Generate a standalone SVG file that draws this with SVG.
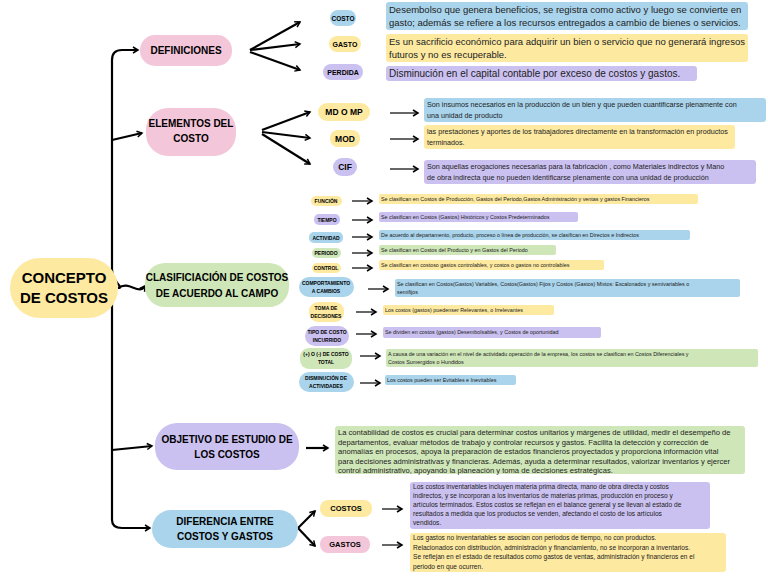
<svg xmlns="http://www.w3.org/2000/svg" width="768" height="576" viewBox="0 0 768 576">
<defs>
<marker id="ah" markerWidth="8" markerHeight="8" refX="6" refY="4" orient="auto" markerUnits="userSpaceOnUse"><path d="M1,1 L6,4 L1,7" fill="none" stroke="#000" stroke-width="1.5"/></marker>
<style>
.c{stroke:#000;stroke-width:2.2;fill:none;marker-end:url(#ah)}
.s{stroke:#000;stroke-width:1.2;fill:none;marker-end:url(#ah)}
.lb{font-family:"Liberation Sans",Arial,sans-serif;font-weight:bold;fill:#000;text-anchor:middle}
.t{font-family:"Liberation Sans",Arial,sans-serif;fill:#222}
.pk{fill:#f4c6d9}.yl{fill:#fde9a0}.pu{fill:#cbc1f1}.bl{fill:#a9d4ec}.gr{fill:#cfe6b8}
</style>
</defs>
<rect width="768" height="576" fill="#fff"/>
<g id="connectors">
<path d="M118,288 C125,288 112,282 112,270 L112,60 Q112,50 122,50 L138,50" class="c"/>
<path d="M112,140 L142,133" class="c"/>
<path d="M118,288 C130,280 138,296 145,286" class="c"/>
<path d="M112,270 L112,520 Q112,528 122,528 L150,528" class="c"/>
<path d="M112,450 L152,446" class="c"/>
<path d="M250,50 L300,22" class="c"/><path d="M250,50 L300,44" class="c"/><path d="M250,52 L300,70" class="c"/>
<path d="M262,130 L310,112" class="c"/><path d="M262,132 L310,138" class="c"/><path d="M262,134 L310,164" class="c"/>
<path d="M390,113 L418,113" class="s"/><path d="M390,139 L418,139" class="s"/><path d="M390,169 L418,169" class="s"/>
<path d="M352,201 L372,201" class="s"/><path d="M352,220 L372,220" class="s"/><path d="M352,237 L372,237" class="s"/>
<path d="M352,253 L372,253" class="s"/><path d="M352,268 L372,268" class="s"/><path d="M368,289 L388,289" class="s"/>
<path d="M356,312 L376,312" class="s"/><path d="M356,334 L376,334" class="s"/><path d="M360,356 L380,356" class="s"/>
<path d="M360,383 L380,383" class="s"/>
<path d="M306,448 L328,448" class="c"/>
<path d="M298,528 L315,511" class="c"/><path d="M298,528 L315,546" class="c"/>
<path d="M382,509 L402,509" class="s"/><path d="M382,545 L402,545" class="s"/>
</g>
<g id="concepto"><rect x="10" y="258" width="108" height="60" rx="30" class="yl"/><text class="lb" font-weight="normal" font-size="15" x="64" y="283">CONCEPTO</text><text class="lb" font-weight="normal" font-size="15" x="64" y="303">DE COSTOS</text></g>
<g id="definiciones"><rect x="140" y="35" width="92" height="31" rx="15" class="pk"/><text class="lb" font-size="10" x="186" y="54">DEFINICIONES</text></g>
<g id="elementos"><rect x="146" y="108" width="90" height="48" rx="22" class="pk"/><text class="lb" font-size="10" x="191" y="127">ELEMENTOS DEL</text><text class="lb" font-size="10" x="191" y="142">COSTO</text></g>
<g id="clasificacion"><rect x="145" y="263" width="144" height="44" rx="20" class="gr"/><text class="lb" font-size="10" x="217" y="281">CLASIFICIACIÓN DE COSTOS</text><text class="lb" font-size="10" x="217" y="297">DE ACUERDO AL CAMPO</text></g>
<g id="objetivo"><rect x="155" y="423" width="144" height="47" rx="22" class="pu"/><text class="lb" font-size="10" x="227" y="443">OBJETIVO DE ESTUDIO DE</text><text class="lb" font-size="10" x="227" y="458">LOS COSTOS</text></g>
<g id="diferencia"><rect x="152" y="510" width="146" height="38" rx="19" class="bl"/><text class="lb" font-size="10" x="225" y="525">DIFERENCIA ENTRE</text><text class="lb" font-size="10" x="225" y="540">COSTOS Y GASTOS</text></g>
<g id="costo"><rect x="330" y="10" width="26" height="16" rx="8" class="bl"/><text class="lb" font-size="6.5" x="343" y="21">COSTO</text>
<rect x="386" y="2" width="362" height="28" rx="3" class="bl"/><text class="t" font-size="9.5" x="389" y="13">Desembolso que genera beneficios, se registra como activo y luego se convierte en</text><text class="t" font-size="9.5" x="389" y="26">gasto; además se refiere a los recursos entregados a cambio de bienes o servicios.</text></g>
<g id="gasto"><rect x="329" y="36" width="32" height="16" rx="8" class="yl"/><text class="lb" font-size="7" x="345" y="47">GASTO</text>
<rect x="386" y="34" width="362" height="28" rx="3" class="yl"/><text class="t" font-size="9.5" x="389" y="45">Es un sacrificio económico para adquirir un bien o servicio que no generará ingresos</text><text class="t" font-size="9.5" x="389" y="58">futuros y no es recuperable.</text></g>
<g id="perdida"><rect x="323" y="64" width="40" height="16" rx="8" class="pu"/><text class="lb" font-size="7" x="343" y="75">PERDIDA</text>
<rect x="386" y="66" width="311" height="15" rx="3" class="pu"/><text class="t" font-size="10" x="389" y="77">Disminución en el capital contable por exceso de costos y gastos.</text></g>
<g id="mdomp"><rect x="318" y="103" width="52" height="18" rx="9" class="yl"/><text class="lb" font-size="8.5" x="344" y="115">MD O MP</text>
<rect x="424" y="98" width="342" height="24" rx="3" class="bl"/><text class="t" font-size="7.2" x="427" y="107">Son insumos necesarios en la producción de un bien y que pueden cuantificarse plenamente con</text><text class="t" font-size="7.2" x="427" y="118">una unidad de producto</text></g>
<g id="mod"><rect x="330" y="130" width="30" height="17" rx="8" class="yl"/><text class="lb" font-size="8.5" x="345" y="142">MOD</text>
<rect x="424" y="125" width="311" height="24" rx="3" class="yl"/><text class="t" font-size="7.2" x="427" y="134">las prestaciones y  aportes de los trabajadores  directamente en la transformación en productos</text><text class="t" font-size="7.2" x="427" y="145">terminados.</text></g>
<g id="cif"><rect x="333" y="158" width="24" height="18" rx="9" class="pu"/><text class="lb" font-size="8.5" x="345" y="170">CIF</text>
<rect x="424" y="160" width="332" height="24" rx="3" class="pu"/><text class="t" font-size="7.2" x="427" y="169">Son aquellas erogaciones necesarias para la fabricación , como Materiales indirectos y Mano</text><text class="t" font-size="7.2" x="427" y="180">de obra indirecta que no pueden identificarse plenamente con una unidad de producción</text></g>
<g id="funcion"><rect x="311" y="196" width="31" height="10" rx="5" class="yl"/><text class="lb" font-size="5" x="326" y="203">FUNCIÓN</text>
<rect x="379" y="194" width="319" height="10" rx="2" class="yl"/><text class="t" font-size="5.4" x="381" y="201">Se clasifican en Costos de Producción, Gastos del Periodo,Gastos Administración y ventas y gastos Financieros</text></g>
<g id="tiempo"><rect x="314" y="214" width="26" height="11" rx="5" class="pu"/><text class="lb" font-size="5" x="327" y="222">TIEMPO</text>
<rect x="379" y="212" width="199" height="10" rx="2" class="pu"/><text class="t" font-size="5.4" x="381" y="219">Se clasifican en Costos (Gastos) Históricos y Costos Predeterminados</text></g>
<g id="actividad"><rect x="309" y="232" width="34" height="11" rx="5" class="bl"/><text class="lb" font-size="5" x="326" y="240">ACTIVIDAD</text>
<rect x="379" y="230" width="311" height="10" rx="2" class="bl"/><text class="t" font-size="5.4" x="381" y="237">De acuerdo al departamento, producto, proceso o línea de producción, se clasifican en Directos e Indirectos</text></g>
<g id="periodo"><rect x="312" y="248" width="29" height="10" rx="5" class="gr"/><text class="lb" font-size="5" x="326" y="255">PERIODO</text>
<rect x="379" y="245" width="177" height="10" rx="2" class="gr"/><text class="t" font-size="5.4" x="381" y="252">Se clasifican en Costos del Producto y en Gastos del Periodo</text></g>
<g id="control"><rect x="312" y="263" width="29" height="10" rx="5" class="yl"/><text class="lb" font-size="5" x="326" y="270">CONTROL</text>
<rect x="379" y="260" width="225" height="10" rx="2" class="yl"/><text class="t" font-size="5.4" x="381" y="267">Se clasifican en costoso gastos controlables, y costos o gastos no controlables</text></g>
<g id="comportamiento"><rect x="299" y="277" width="55" height="20" rx="10" class="bl"/><text class="lb" font-size="5" x="326" y="285">COMPORTAMIENTO</text><text class="lb" font-size="5" x="326" y="293">A CAMBIOS</text>
<rect x="395" y="279" width="345" height="18" rx="2" class="bl"/><text class="t" font-size="5.4" x="397" y="286">Se clasifican en Costos(Gastos) Variables, Costos(Gastos) Fijos y Costos (Gastos) Mixtos: Escalonados y semivariables o</text><text class="t" font-size="5.4" x="397" y="294">semifijos</text></g>
<g id="toma"><rect x="309" y="302" width="35" height="20" rx="9" class="yl"/><text class="lb" font-size="5" x="326" y="310">TOMA DE</text><text class="lb" font-size="5" x="326" y="318">DECISIONES</text>
<rect x="383" y="305" width="171" height="10" rx="2" class="yl"/><text class="t" font-size="5.4" x="385" y="312">Los costos (gastos) puedenser Relevantes, o Irrelevantes</text></g>
<g id="tipo"><rect x="305" y="326" width="44" height="20" rx="10" class="pu"/><text class="lb" font-size="5" x="327" y="334">TIPO DE COSTO</text><text class="lb" font-size="5" x="327" y="342">INCURRIDO</text>
<rect x="383" y="327" width="218" height="11" rx="2" class="pu"/><text class="t" font-size="5.4" x="385" y="334">Se dividen en costos (gastos) Desembolsables, y Costos de oportunidad</text></g>
<g id="total"><rect x="300" y="348" width="52" height="21" rx="9" class="gr"/><text class="lb" font-size="5" x="326" y="356">(+) O (-) DE COSTO</text><text class="lb" font-size="5" x="326" y="364">TOTAL</text>
<rect x="386" y="349" width="372" height="18" rx="2" class="gr"/><text class="t" font-size="5.4" x="388" y="356">A causa de una variación en el nivel de actividadu operación de la empresa, los costos se clasifican en Costos Diferenciales y</text><text class="t" font-size="5.4" x="388" y="364">Costos Sumergidos o Hundidos</text></g>
<g id="disminucion"><rect x="299" y="372" width="55" height="20" rx="10" class="bl"/><text class="lb" font-size="5" x="326" y="380">DISMINUCIÓN DE</text><text class="lb" font-size="5" x="326" y="388">ACTIVIDADES</text>
<rect x="385" y="375" width="131" height="10" rx="2" class="bl"/><text class="t" font-size="5.4" x="387" y="382">Los costos pueden ser Evitables e Inevitables</text></g>
<g id="objetivo-texto"><rect x="335" y="426" width="410" height="48" rx="3" class="gr"/>
<text class="t" font-size="7.6" x="338" y="435">La contabilidad de costos es crucial para determinar costos unitarios y márgenes de utilidad, medir el desempeño de</text>
<text class="t" font-size="7.6" x="338" y="444.5">departamentos, evaluar métodos de trabajo y controlar recursos y gastos. Facilita la detección y corrección de</text>
<text class="t" font-size="7.6" x="338" y="454">anomalías en procesos, apoya la preparación de estados financieros proyectados y proporciona información vital</text>
<text class="t" font-size="7.6" x="338" y="463.5">para decisiones administrativas y financieras. Además, ayuda a determinar resultados, valorizar inventarios y ejercer</text>
<text class="t" font-size="7.6" x="338" y="473">control administrativo, apoyando la planeación y toma de decisiones estratégicas.</text></g>
<g id="costos"><rect x="320" y="500" width="52" height="17" rx="8" class="yl"/><text class="lb" font-size="7.5" x="346" y="511">COSTOS</text>
<rect x="410" y="482" width="300" height="47" rx="3" class="pu"/>
<text class="t" font-size="6.6" x="413" y="489">Los costos inventariables incluyen materia prima directa, mano de obra directa y costos</text>
<text class="t" font-size="6.6" x="413" y="498">indirectos, y se incorporan a los inventarios de materias primas, producción en proceso y</text>
<text class="t" font-size="6.6" x="413" y="507">artículos terminados. Estos costos se reflejan en el balance general y se llevan al estado de</text>
<text class="t" font-size="6.6" x="413" y="516">resultados a medida que los productos se venden, afectando el costo de los artículos</text>
<text class="t" font-size="6.6" x="413" y="525">vendidos.</text></g>
<g id="gastos"><rect x="320" y="536" width="50" height="17" rx="8" class="pk"/><text class="lb" font-size="7.5" x="345" y="547">GASTOS</text>
<rect x="410" y="533" width="316" height="39" rx="3" class="yl"/>
<text class="t" font-size="6.6" x="413" y="540">Los gastos no inventariables se asocian con periodos de tiempo, no con productos.</text>
<text class="t" font-size="6.6" x="413" y="549.5">Relacionados con distribución, administración y financiamiento, no se incorporan a inventarios.</text>
<text class="t" font-size="6.6" x="413" y="559">Se reflejan en el estado de resultados como gastos de ventas, administración y financieros en el</text>
<text class="t" font-size="6.6" x="413" y="568.5">periodo en que ocurren.</text></g>
</svg>
